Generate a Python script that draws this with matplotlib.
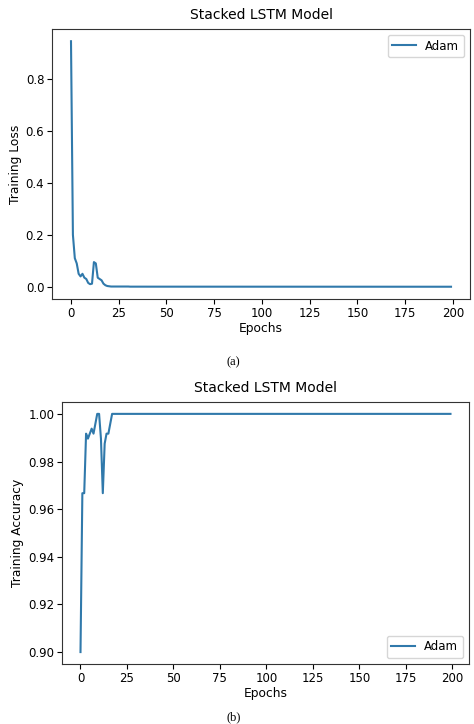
#!/usr/bin/env python3
"""Training loss and accuracy of the stacked LSTM model (Adam optimiser)."""

import numpy as np
from matplotlib import pyplot as plt

# Data: 200 epochs
epochs = np.arange(200)

loss_start = [0.945, 0.20, 0.11, 0.09, 0.05, 0.04, 0.05, 0.035, 0.03, 0.015,
              0.01, 0.012, 0.095, 0.09, 0.035, 0.03, 0.025, 0.012, 0.006,
              0.003, 0.002]
loss_tail = [0.001] * 10 + [0.0005] * 20 + [0.0002] * 149
train_loss = loss_start + loss_tail

acc_start = [0.900, 0.9667, 0.9667, 0.9917, 0.9896, 0.9917, 0.9938, 0.9917,
             0.9958, 1.0, 1.0, 0.9896, 0.9667, 0.9875, 0.9917, 0.9917,
             0.9958, 1.0]
acc_tail = [1.0] * 182
train_acc = acc_start + acc_tail

line_color = "#3079ab"
tick_size = 8.5
label_size = 8.8
title_size = 10

fig = plt.figure(figsize=(4.74, 7.24), dpi=100)

# (a) training loss
ax1 = fig.add_axes([0.1097, 0.587, 0.8819, 0.373])
ax1.plot(epochs, train_loss, color=line_color, lw=1.5, label="Adam")
ax1.set_title("Stacked LSTM Model", fontsize=title_size, pad=7)
ax1.set_xlabel("Epochs", fontsize=label_size, labelpad=2)
ax1.set_ylabel("Training Loss", fontsize=label_size, labelpad=3)
ax1.set_xticks([0, 25, 50, 75, 100, 125, 150, 175, 200])
ax1.set_yticks([0.0, 0.2, 0.4, 0.6, 0.8])
ax1.tick_params(labelsize=tick_size, pad=2)
ax1.legend(loc="upper right", fontsize=tick_size)

# (b) training accuracy
ax2 = fig.add_axes([0.1308, 0.0829, 0.8586, 0.3619])
ax2.plot(epochs, train_acc, color=line_color, lw=1.5, label="Adam")
ax2.set_title("Stacked LSTM Model", fontsize=title_size, pad=7)
ax2.set_xlabel("Epochs", fontsize=label_size, labelpad=2)
ax2.set_ylabel("Training Accuracy", fontsize=label_size, labelpad=3)
ax2.set_xticks([0, 25, 50, 75, 100, 125, 150, 175, 200])
ax2.set_yticks([0.90, 0.92, 0.94, 0.96, 0.98, 1.00])
ax2.tick_params(labelsize=tick_size, pad=2)
ax2.legend(loc="lower right", fontsize=tick_size)

for ax in (ax1, ax2):
    for spine in ax.spines.values():
        spine.set_color("#333333")

# Sub-figure captions
fig.text(0.493, 1 - 362 / 724, "(a)", ha="center", va="center",
         family="Liberation Serif", fontsize=9)
fig.text(0.493, 1 - 711 / 724, "(b)", ha="center", va="top",
         family="Liberation Serif", fontsize=9)

fig.savefig("out.png", dpi=100)
